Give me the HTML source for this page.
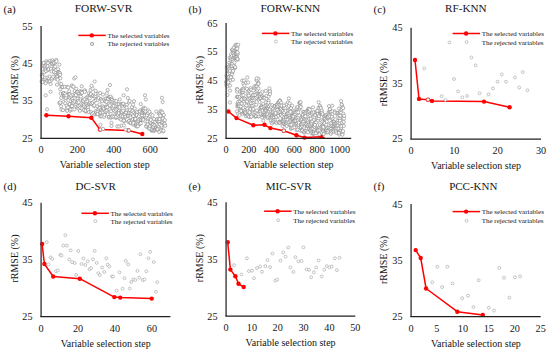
<!DOCTYPE html>
<html><head><meta charset="utf-8"><style>
html,body{margin:0;padding:0;background:#fff;}
svg{display:block;font-family:"Liberation Serif", serif;}
text{fill:#151515;}
</style></head><body>
<svg width="550" height="354" viewBox="0 0 550 354">
<polyline points="46.4,115.3 68.5,116.2 91.4,117.8 100.0,129.6 128.4,130.4 142.3,134.0" fill="none" stroke="#ff0000" stroke-width="1.5" stroke-linejoin="round"/>
<g fill="#ff0000"><circle cx="46.4" cy="115.3" r="2.2"/><circle cx="68.5" cy="116.2" r="2.2"/><circle cx="91.4" cy="117.8" r="2.2"/><circle cx="100.0" cy="129.6" r="2.2"/><circle cx="128.4" cy="130.4" r="2.2"/><circle cx="142.3" cy="134.0" r="2.2"/></g>
<g fill="#fff" stroke="#858585" stroke-width="0.6"><circle cx="41.6" cy="81.5" r="1.6"/><circle cx="41.9" cy="74.7" r="1.6"/><circle cx="41.9" cy="75.5" r="1.6"/><circle cx="42.7" cy="68.7" r="1.6"/><circle cx="42.4" cy="76.7" r="1.6"/><circle cx="42.6" cy="82.1" r="1.6"/><circle cx="43.4" cy="65.5" r="1.6"/><circle cx="43.2" cy="63.6" r="1.6"/><circle cx="43.6" cy="62.9" r="1.6"/><circle cx="44.1" cy="79.3" r="1.6"/><circle cx="44.4" cy="72.2" r="1.6"/><circle cx="44.8" cy="67.5" r="1.6"/><circle cx="45.3" cy="79.0" r="1.6"/><circle cx="45.4" cy="66.3" r="1.6"/><circle cx="45.3" cy="77.5" r="1.6"/><circle cx="45.7" cy="69.5" r="1.6"/><circle cx="46.4" cy="61.2" r="1.6"/><circle cx="46.1" cy="71.1" r="1.6"/><circle cx="47.0" cy="62.5" r="1.6"/><circle cx="47.0" cy="66.7" r="1.6"/><circle cx="46.9" cy="81.3" r="1.6"/><circle cx="47.7" cy="65.9" r="1.6"/><circle cx="47.4" cy="77.7" r="1.6"/><circle cx="47.8" cy="70.1" r="1.6"/><circle cx="48.1" cy="63.2" r="1.6"/><circle cx="48.7" cy="69.2" r="1.6"/><circle cx="48.6" cy="81.1" r="1.6"/><circle cx="49.4" cy="79.1" r="1.6"/><circle cx="49.2" cy="78.5" r="1.6"/><circle cx="49.8" cy="81.3" r="1.6"/><circle cx="49.7" cy="76.5" r="1.6"/><circle cx="50.1" cy="60.8" r="1.6"/><circle cx="50.2" cy="64.6" r="1.6"/><circle cx="50.9" cy="69.0" r="1.6"/><circle cx="51.5" cy="71.5" r="1.6"/><circle cx="51.7" cy="61.8" r="1.6"/><circle cx="52.0" cy="63.8" r="1.6"/><circle cx="51.7" cy="79.8" r="1.6"/><circle cx="52.0" cy="78.4" r="1.6"/><circle cx="52.6" cy="60.2" r="1.6"/><circle cx="52.4" cy="63.4" r="1.6"/><circle cx="53.2" cy="76.8" r="1.6"/><circle cx="53.4" cy="61.8" r="1.6"/><circle cx="53.8" cy="63.2" r="1.6"/><circle cx="53.9" cy="72.0" r="1.6"/><circle cx="54.0" cy="62.7" r="1.6"/><circle cx="54.1" cy="68.2" r="1.6"/><circle cx="54.4" cy="66.6" r="1.6"/><circle cx="55.1" cy="66.6" r="1.6"/><circle cx="55.6" cy="73.1" r="1.6"/><circle cx="55.7" cy="62.2" r="1.6"/><circle cx="55.5" cy="78.5" r="1.6"/><circle cx="56.3" cy="60.0" r="1.6"/><circle cx="56.5" cy="74.7" r="1.6"/><circle cx="56.5" cy="61.2" r="1.6"/><circle cx="57.0" cy="78.1" r="1.6"/><circle cx="57.4" cy="76.0" r="1.6"/><circle cx="57.8" cy="74.0" r="1.6"/><circle cx="58.1" cy="69.2" r="1.6"/><circle cx="58.3" cy="72.1" r="1.6"/><circle cx="58.4" cy="72.3" r="1.6"/><circle cx="58.7" cy="73.5" r="1.6"/><circle cx="59.3" cy="75.1" r="1.6"/><circle cx="59.1" cy="72.6" r="1.6"/><circle cx="59.4" cy="64.6" r="1.6"/><circle cx="59.9" cy="73.3" r="1.6"/><circle cx="60.0" cy="74.8" r="1.6"/><circle cx="60.3" cy="78.3" r="1.6"/><circle cx="59.5" cy="102.8" r="1.6"/><circle cx="59.5" cy="83.5" r="1.6"/><circle cx="59.8" cy="103.3" r="1.6"/><circle cx="60.3" cy="102.4" r="1.6"/><circle cx="60.2" cy="89.2" r="1.6"/><circle cx="61.1" cy="106.3" r="1.6"/><circle cx="60.7" cy="93.6" r="1.6"/><circle cx="61.2" cy="84.0" r="1.6"/><circle cx="61.2" cy="97.9" r="1.6"/><circle cx="61.4" cy="109.6" r="1.6"/><circle cx="61.7" cy="86.9" r="1.6"/><circle cx="62.1" cy="87.3" r="1.6"/><circle cx="62.7" cy="87.0" r="1.6"/><circle cx="63.0" cy="94.2" r="1.6"/><circle cx="63.1" cy="93.2" r="1.6"/><circle cx="62.9" cy="110.1" r="1.6"/><circle cx="63.9" cy="93.1" r="1.6"/><circle cx="63.7" cy="102.0" r="1.6"/><circle cx="63.7" cy="93.1" r="1.6"/><circle cx="64.3" cy="97.4" r="1.6"/><circle cx="64.2" cy="95.4" r="1.6"/><circle cx="64.8" cy="95.8" r="1.6"/><circle cx="64.9" cy="86.8" r="1.6"/><circle cx="65.3" cy="103.3" r="1.6"/><circle cx="65.2" cy="93.8" r="1.6"/><circle cx="65.9" cy="97.5" r="1.6"/><circle cx="65.8" cy="97.9" r="1.6"/><circle cx="66.7" cy="110.1" r="1.6"/><circle cx="66.3" cy="95.4" r="1.6"/><circle cx="66.6" cy="109.0" r="1.6"/><circle cx="66.7" cy="105.7" r="1.6"/><circle cx="67.2" cy="86.9" r="1.6"/><circle cx="67.2" cy="110.8" r="1.6"/><circle cx="68.2" cy="87.4" r="1.6"/><circle cx="67.9" cy="107.3" r="1.6"/><circle cx="68.4" cy="100.1" r="1.6"/><circle cx="68.5" cy="93.6" r="1.6"/><circle cx="69.2" cy="91.2" r="1.6"/><circle cx="68.9" cy="94.0" r="1.6"/><circle cx="69.7" cy="104.1" r="1.6"/><circle cx="69.7" cy="94.3" r="1.6"/><circle cx="69.6" cy="104.1" r="1.6"/><circle cx="69.8" cy="97.6" r="1.6"/><circle cx="70.1" cy="110.8" r="1.6"/><circle cx="70.6" cy="109.4" r="1.6"/><circle cx="71.2" cy="96.9" r="1.6"/><circle cx="71.2" cy="106.1" r="1.6"/><circle cx="71.4" cy="95.4" r="1.6"/><circle cx="71.8" cy="85.4" r="1.6"/><circle cx="72.0" cy="106.1" r="1.6"/><circle cx="72.4" cy="99.0" r="1.6"/><circle cx="72.6" cy="86.6" r="1.6"/><circle cx="72.5" cy="109.5" r="1.6"/><circle cx="73.0" cy="101.0" r="1.6"/><circle cx="72.8" cy="103.2" r="1.6"/><circle cx="73.3" cy="94.7" r="1.6"/><circle cx="73.5" cy="86.7" r="1.6"/><circle cx="73.5" cy="102.8" r="1.6"/><circle cx="74.3" cy="109.4" r="1.6"/><circle cx="74.2" cy="78.5" r="1.6"/><circle cx="74.6" cy="101.5" r="1.6"/><circle cx="74.7" cy="90.9" r="1.6"/><circle cx="75.5" cy="77.3" r="1.6"/><circle cx="75.2" cy="93.8" r="1.6"/><circle cx="75.4" cy="95.8" r="1.6"/><circle cx="76.0" cy="95.2" r="1.6"/><circle cx="76.2" cy="88.7" r="1.6"/><circle cx="76.3" cy="106.4" r="1.6"/><circle cx="76.4" cy="104.4" r="1.6"/><circle cx="76.8" cy="101.7" r="1.6"/><circle cx="77.5" cy="102.6" r="1.6"/><circle cx="77.3" cy="92.1" r="1.6"/><circle cx="77.6" cy="92.1" r="1.6"/><circle cx="77.6" cy="98.8" r="1.6"/><circle cx="77.9" cy="106.1" r="1.6"/><circle cx="78.2" cy="100.8" r="1.6"/><circle cx="78.5" cy="108.8" r="1.6"/><circle cx="78.7" cy="102.2" r="1.6"/><circle cx="79.4" cy="106.2" r="1.6"/><circle cx="79.3" cy="93.0" r="1.6"/><circle cx="79.6" cy="96.4" r="1.6"/><circle cx="79.8" cy="91.3" r="1.6"/><circle cx="79.9" cy="110.8" r="1.6"/><circle cx="80.4" cy="107.7" r="1.6"/><circle cx="80.9" cy="96.7" r="1.6"/><circle cx="81.1" cy="91.4" r="1.6"/><circle cx="81.4" cy="93.3" r="1.6"/><circle cx="81.7" cy="86.3" r="1.6"/><circle cx="81.3" cy="92.1" r="1.6"/><circle cx="82.1" cy="92.8" r="1.6"/><circle cx="81.9" cy="108.4" r="1.6"/><circle cx="82.5" cy="104.4" r="1.6"/><circle cx="82.7" cy="100.8" r="1.6"/><circle cx="83.0" cy="100.3" r="1.6"/><circle cx="83.3" cy="103.3" r="1.6"/><circle cx="83.3" cy="100.7" r="1.6"/><circle cx="83.8" cy="110.1" r="1.6"/><circle cx="83.9" cy="104.9" r="1.6"/><circle cx="84.5" cy="99.1" r="1.6"/><circle cx="84.4" cy="106.4" r="1.6"/><circle cx="85.0" cy="90.7" r="1.6"/><circle cx="84.6" cy="90.4" r="1.6"/><circle cx="84.8" cy="91.9" r="1.6"/><circle cx="85.6" cy="111.5" r="1.6"/><circle cx="86.1" cy="111.3" r="1.6"/><circle cx="85.6" cy="110.6" r="1.6"/><circle cx="86.2" cy="107.1" r="1.6"/><circle cx="86.4" cy="97.4" r="1.6"/><circle cx="86.5" cy="104.0" r="1.6"/><circle cx="87.3" cy="107.7" r="1.6"/><circle cx="87.5" cy="97.4" r="1.6"/><circle cx="87.8" cy="105.6" r="1.6"/><circle cx="87.3" cy="101.5" r="1.6"/><circle cx="88.1" cy="107.5" r="1.6"/><circle cx="88.1" cy="109.9" r="1.6"/><circle cx="88.8" cy="93.4" r="1.6"/><circle cx="88.8" cy="97.7" r="1.6"/><circle cx="88.7" cy="103.9" r="1.6"/><circle cx="88.9" cy="112.1" r="1.6"/><circle cx="89.7" cy="98.3" r="1.6"/><circle cx="89.4" cy="104.1" r="1.6"/><circle cx="89.7" cy="103.0" r="1.6"/><circle cx="90.3" cy="94.6" r="1.6"/><circle cx="90.4" cy="95.1" r="1.6"/><circle cx="90.7" cy="89.9" r="1.6"/><circle cx="90.9" cy="94.1" r="1.6"/><circle cx="91.1" cy="112.1" r="1.6"/><circle cx="91.3" cy="103.8" r="1.6"/><circle cx="91.6" cy="103.3" r="1.6"/><circle cx="91.6" cy="85.8" r="1.6"/><circle cx="92.0" cy="113.8" r="1.6"/><circle cx="92.6" cy="95.9" r="1.6"/><circle cx="92.6" cy="88.7" r="1.6"/><circle cx="92.7" cy="102.6" r="1.6"/><circle cx="93.3" cy="113.3" r="1.6"/><circle cx="93.5" cy="95.7" r="1.6"/><circle cx="93.7" cy="106.1" r="1.6"/><circle cx="94.2" cy="101.1" r="1.6"/><circle cx="94.4" cy="105.3" r="1.6"/><circle cx="94.6" cy="96.8" r="1.6"/><circle cx="94.6" cy="81.5" r="1.6"/><circle cx="95.2" cy="114.3" r="1.6"/><circle cx="95.6" cy="111.1" r="1.6"/><circle cx="95.4" cy="96.0" r="1.6"/><circle cx="95.7" cy="90.9" r="1.6"/><circle cx="95.7" cy="93.9" r="1.6"/><circle cx="96.0" cy="100.3" r="1.6"/><circle cx="96.5" cy="114.0" r="1.6"/><circle cx="96.5" cy="112.3" r="1.6"/><circle cx="97.3" cy="106.4" r="1.6"/><circle cx="97.2" cy="113.9" r="1.6"/><circle cx="97.7" cy="111.8" r="1.6"/><circle cx="97.6" cy="114.0" r="1.6"/><circle cx="97.7" cy="99.8" r="1.6"/><circle cx="98.5" cy="109.3" r="1.6"/><circle cx="98.5" cy="93.7" r="1.6"/><circle cx="98.7" cy="98.0" r="1.6"/><circle cx="99.4" cy="108.0" r="1.6"/><circle cx="99.6" cy="107.9" r="1.6"/><circle cx="99.6" cy="104.4" r="1.6"/><circle cx="100.1" cy="93.0" r="1.6"/><circle cx="100.1" cy="116.3" r="1.6"/><circle cx="100.1" cy="112.8" r="1.6"/><circle cx="100.7" cy="112.5" r="1.6"/><circle cx="100.9" cy="110.1" r="1.6"/><circle cx="100.9" cy="99.0" r="1.6"/><circle cx="101.0" cy="116.2" r="1.6"/><circle cx="101.3" cy="100.2" r="1.6"/><circle cx="102.2" cy="101.2" r="1.6"/><circle cx="102.3" cy="116.4" r="1.6"/><circle cx="102.1" cy="110.5" r="1.6"/><circle cx="102.4" cy="111.3" r="1.6"/><circle cx="103.0" cy="112.4" r="1.6"/><circle cx="102.9" cy="106.4" r="1.6"/><circle cx="103.0" cy="94.6" r="1.6"/><circle cx="103.4" cy="107.6" r="1.6"/><circle cx="103.7" cy="109.0" r="1.6"/><circle cx="104.1" cy="116.9" r="1.6"/><circle cx="104.6" cy="114.9" r="1.6"/><circle cx="104.4" cy="99.3" r="1.6"/><circle cx="104.7" cy="111.0" r="1.6"/><circle cx="105.2" cy="100.8" r="1.6"/><circle cx="105.7" cy="101.7" r="1.6"/><circle cx="105.5" cy="111.5" r="1.6"/><circle cx="106.2" cy="106.5" r="1.6"/><circle cx="106.4" cy="98.2" r="1.6"/><circle cx="106.7" cy="110.7" r="1.6"/><circle cx="106.6" cy="101.7" r="1.6"/><circle cx="106.5" cy="107.1" r="1.6"/><circle cx="107.4" cy="107.3" r="1.6"/><circle cx="107.5" cy="112.9" r="1.6"/><circle cx="107.8" cy="114.3" r="1.6"/><circle cx="108.0" cy="98.9" r="1.6"/><circle cx="108.1" cy="98.4" r="1.6"/><circle cx="108.1" cy="98.9" r="1.6"/><circle cx="108.7" cy="117.5" r="1.6"/><circle cx="109.0" cy="104.2" r="1.6"/><circle cx="109.0" cy="116.9" r="1.6"/><circle cx="109.7" cy="109.3" r="1.6"/><circle cx="109.3" cy="97.0" r="1.6"/><circle cx="109.7" cy="97.1" r="1.6"/><circle cx="109.9" cy="105.4" r="1.6"/><circle cx="110.7" cy="96.6" r="1.6"/><circle cx="111.0" cy="111.3" r="1.6"/><circle cx="110.9" cy="117.6" r="1.6"/><circle cx="111.1" cy="98.8" r="1.6"/><circle cx="111.2" cy="101.3" r="1.6"/><circle cx="111.9" cy="98.6" r="1.6"/><circle cx="111.6" cy="117.1" r="1.6"/><circle cx="112.4" cy="106.9" r="1.6"/><circle cx="112.0" cy="99.9" r="1.6"/><circle cx="112.4" cy="115.6" r="1.6"/><circle cx="112.6" cy="116.6" r="1.6"/><circle cx="112.7" cy="101.6" r="1.6"/><circle cx="113.2" cy="108.2" r="1.6"/><circle cx="114.0" cy="110.4" r="1.6"/><circle cx="113.6" cy="105.9" r="1.6"/><circle cx="114.4" cy="100.9" r="1.6"/><circle cx="114.3" cy="103.4" r="1.6"/><circle cx="114.3" cy="116.7" r="1.6"/><circle cx="114.7" cy="102.9" r="1.6"/><circle cx="115.3" cy="111.7" r="1.6"/><circle cx="115.6" cy="108.9" r="1.6"/><circle cx="116.0" cy="118.0" r="1.6"/><circle cx="116.2" cy="103.0" r="1.6"/><circle cx="116.0" cy="116.9" r="1.6"/><circle cx="116.2" cy="109.8" r="1.6"/><circle cx="116.3" cy="101.0" r="1.6"/><circle cx="116.7" cy="113.4" r="1.6"/><circle cx="117.5" cy="108.5" r="1.6"/><circle cx="117.6" cy="113.9" r="1.6"/><circle cx="117.3" cy="104.2" r="1.6"/><circle cx="117.9" cy="114.9" r="1.6"/><circle cx="118.4" cy="107.1" r="1.6"/><circle cx="118.6" cy="117.3" r="1.6"/><circle cx="118.5" cy="107.4" r="1.6"/><circle cx="119.1" cy="104.3" r="1.6"/><circle cx="118.8" cy="113.0" r="1.6"/><circle cx="119.8" cy="99.5" r="1.6"/><circle cx="119.6" cy="108.3" r="1.6"/><circle cx="119.6" cy="106.9" r="1.6"/><circle cx="119.8" cy="118.6" r="1.6"/><circle cx="120.6" cy="116.9" r="1.6"/><circle cx="120.9" cy="104.3" r="1.6"/><circle cx="121.3" cy="115.6" r="1.6"/><circle cx="120.9" cy="112.1" r="1.6"/><circle cx="121.1" cy="119.7" r="1.6"/><circle cx="121.8" cy="104.1" r="1.6"/><circle cx="122.1" cy="111.5" r="1.6"/><circle cx="121.9" cy="111.8" r="1.6"/><circle cx="122.4" cy="105.6" r="1.6"/><circle cx="122.7" cy="104.0" r="1.6"/><circle cx="122.9" cy="116.2" r="1.6"/><circle cx="123.4" cy="120.2" r="1.6"/><circle cx="123.2" cy="110.7" r="1.6"/><circle cx="123.4" cy="103.7" r="1.6"/><circle cx="124.3" cy="121.0" r="1.6"/><circle cx="123.9" cy="120.5" r="1.6"/><circle cx="124.7" cy="114.9" r="1.6"/><circle cx="124.7" cy="113.6" r="1.6"/><circle cx="125.0" cy="114.5" r="1.6"/><circle cx="125.3" cy="117.2" r="1.6"/><circle cx="125.3" cy="106.4" r="1.6"/><circle cx="125.7" cy="116.3" r="1.6"/><circle cx="125.6" cy="105.0" r="1.6"/><circle cx="126.3" cy="112.7" r="1.6"/><circle cx="126.8" cy="104.7" r="1.6"/><circle cx="126.8" cy="109.7" r="1.6"/><circle cx="126.7" cy="107.6" r="1.6"/><circle cx="127.6" cy="115.2" r="1.6"/><circle cx="127.8" cy="98.0" r="1.6"/><circle cx="128.1" cy="121.8" r="1.6"/><circle cx="128.2" cy="116.1" r="1.6"/><circle cx="128.3" cy="114.0" r="1.6"/><circle cx="128.5" cy="115.8" r="1.6"/><circle cx="128.3" cy="116.0" r="1.6"/><circle cx="129.3" cy="113.0" r="1.6"/><circle cx="129.0" cy="121.0" r="1.6"/><circle cx="129.1" cy="102.5" r="1.6"/><circle cx="129.7" cy="101.0" r="1.6"/><circle cx="130.0" cy="110.2" r="1.6"/><circle cx="130.0" cy="122.9" r="1.6"/><circle cx="130.2" cy="116.2" r="1.6"/><circle cx="130.6" cy="117.6" r="1.6"/><circle cx="130.8" cy="122.8" r="1.6"/><circle cx="131.0" cy="113.3" r="1.6"/><circle cx="131.7" cy="120.3" r="1.6"/><circle cx="131.9" cy="107.1" r="1.6"/><circle cx="132.1" cy="120.5" r="1.6"/><circle cx="132.2" cy="113.4" r="1.6"/><circle cx="132.8" cy="119.1" r="1.6"/><circle cx="132.4" cy="111.1" r="1.6"/><circle cx="133.0" cy="124.5" r="1.6"/><circle cx="133.1" cy="104.5" r="1.6"/><circle cx="133.5" cy="122.2" r="1.6"/><circle cx="133.4" cy="123.0" r="1.6"/><circle cx="134.0" cy="112.5" r="1.6"/><circle cx="134.0" cy="101.2" r="1.6"/><circle cx="134.8" cy="118.6" r="1.6"/><circle cx="134.8" cy="108.5" r="1.6"/><circle cx="135.2" cy="118.5" r="1.6"/><circle cx="135.4" cy="119.0" r="1.6"/><circle cx="135.3" cy="114.2" r="1.6"/><circle cx="135.8" cy="126.0" r="1.6"/><circle cx="135.7" cy="113.2" r="1.6"/><circle cx="136.6" cy="124.9" r="1.6"/><circle cx="136.8" cy="122.2" r="1.6"/><circle cx="136.9" cy="113.2" r="1.6"/><circle cx="136.8" cy="115.1" r="1.6"/><circle cx="137.1" cy="126.5" r="1.6"/><circle cx="137.3" cy="111.9" r="1.6"/><circle cx="138.0" cy="122.6" r="1.6"/><circle cx="138.1" cy="124.2" r="1.6"/><circle cx="138.0" cy="126.2" r="1.6"/><circle cx="138.4" cy="120.9" r="1.6"/><circle cx="138.9" cy="116.1" r="1.6"/><circle cx="139.4" cy="111.5" r="1.6"/><circle cx="139.5" cy="119.8" r="1.6"/><circle cx="139.9" cy="113.8" r="1.6"/><circle cx="140.1" cy="110.3" r="1.6"/><circle cx="139.8" cy="124.0" r="1.6"/><circle cx="140.1" cy="111.8" r="1.6"/><circle cx="140.7" cy="104.1" r="1.6"/><circle cx="141.0" cy="120.1" r="1.6"/><circle cx="140.8" cy="123.3" r="1.6"/><circle cx="141.2" cy="119.5" r="1.6"/><circle cx="141.8" cy="112.8" r="1.6"/><circle cx="142.1" cy="115.4" r="1.6"/><circle cx="142.3" cy="118.6" r="1.6"/><circle cx="142.2" cy="112.6" r="1.6"/><circle cx="142.9" cy="119.2" r="1.6"/><circle cx="142.9" cy="108.8" r="1.6"/><circle cx="143.2" cy="112.6" r="1.6"/><circle cx="143.4" cy="119.9" r="1.6"/><circle cx="143.8" cy="107.6" r="1.6"/><circle cx="144.2" cy="112.1" r="1.6"/><circle cx="143.8" cy="109.1" r="1.6"/><circle cx="144.7" cy="111.6" r="1.6"/><circle cx="144.5" cy="110.2" r="1.6"/><circle cx="144.9" cy="115.5" r="1.6"/><circle cx="145.5" cy="108.7" r="1.6"/><circle cx="145.6" cy="113.0" r="1.6"/><circle cx="145.6" cy="111.5" r="1.6"/><circle cx="145.5" cy="121.3" r="1.6"/><circle cx="146.2" cy="126.0" r="1.6"/><circle cx="146.3" cy="126.6" r="1.6"/><circle cx="146.3" cy="117.0" r="1.6"/><circle cx="147.0" cy="114.2" r="1.6"/><circle cx="146.9" cy="115.3" r="1.6"/><circle cx="147.7" cy="124.3" r="1.6"/><circle cx="147.6" cy="121.4" r="1.6"/><circle cx="148.1" cy="113.2" r="1.6"/><circle cx="148.3" cy="118.6" r="1.6"/><circle cx="148.3" cy="127.5" r="1.6"/><circle cx="148.4" cy="110.4" r="1.6"/><circle cx="148.9" cy="127.8" r="1.6"/><circle cx="149.3" cy="128.5" r="1.6"/><circle cx="149.7" cy="128.3" r="1.6"/><circle cx="149.9" cy="126.2" r="1.6"/><circle cx="149.5" cy="111.9" r="1.6"/><circle cx="150.1" cy="122.0" r="1.6"/><circle cx="150.3" cy="118.8" r="1.6"/><circle cx="150.8" cy="119.9" r="1.6"/><circle cx="151.0" cy="114.4" r="1.6"/><circle cx="151.1" cy="123.2" r="1.6"/><circle cx="151.6" cy="130.8" r="1.6"/><circle cx="151.7" cy="125.0" r="1.6"/><circle cx="152.2" cy="130.0" r="1.6"/><circle cx="152.5" cy="129.7" r="1.6"/><circle cx="152.3" cy="129.4" r="1.6"/><circle cx="152.9" cy="124.0" r="1.6"/><circle cx="152.5" cy="115.3" r="1.6"/><circle cx="153.2" cy="124.8" r="1.6"/><circle cx="153.1" cy="127.5" r="1.6"/><circle cx="153.7" cy="131.1" r="1.6"/><circle cx="153.5" cy="126.7" r="1.6"/><circle cx="154.2" cy="129.9" r="1.6"/><circle cx="154.1" cy="118.9" r="1.6"/><circle cx="154.8" cy="125.4" r="1.6"/><circle cx="155.2" cy="121.9" r="1.6"/><circle cx="155.2" cy="130.2" r="1.6"/><circle cx="155.3" cy="129.0" r="1.6"/><circle cx="156.0" cy="126.9" r="1.6"/><circle cx="156.0" cy="128.0" r="1.6"/><circle cx="156.3" cy="111.6" r="1.6"/><circle cx="156.6" cy="129.0" r="1.6"/><circle cx="156.9" cy="119.8" r="1.6"/><circle cx="157.1" cy="120.7" r="1.6"/><circle cx="157.0" cy="129.1" r="1.6"/><circle cx="157.3" cy="119.2" r="1.6"/><circle cx="157.7" cy="129.7" r="1.6"/><circle cx="157.6" cy="129.2" r="1.6"/><circle cx="158.4" cy="121.9" r="1.6"/><circle cx="158.8" cy="119.0" r="1.6"/><circle cx="158.9" cy="113.6" r="1.6"/><circle cx="159.3" cy="132.0" r="1.6"/><circle cx="159.2" cy="121.8" r="1.6"/><circle cx="159.8" cy="114.4" r="1.6"/><circle cx="159.3" cy="124.3" r="1.6"/><circle cx="159.7" cy="119.2" r="1.6"/><circle cx="159.9" cy="124.4" r="1.6"/><circle cx="160.2" cy="115.7" r="1.6"/><circle cx="160.6" cy="128.9" r="1.6"/><circle cx="160.6" cy="111.0" r="1.6"/><circle cx="161.6" cy="127.1" r="1.6"/><circle cx="161.5" cy="125.6" r="1.6"/><circle cx="161.4" cy="130.5" r="1.6"/><circle cx="161.8" cy="111.5" r="1.6"/><circle cx="162.4" cy="112.6" r="1.6"/><circle cx="162.8" cy="122.9" r="1.6"/><circle cx="162.7" cy="119.4" r="1.6"/><circle cx="163.0" cy="118.4" r="1.6"/><circle cx="163.0" cy="118.6" r="1.6"/><circle cx="163.2" cy="131.4" r="1.6"/><circle cx="163.5" cy="130.5" r="1.6"/><circle cx="163.8" cy="115.0" r="1.6"/><circle cx="163.9" cy="124.1" r="1.6"/><circle cx="164.8" cy="120.2" r="1.6"/><circle cx="164.7" cy="123.9" r="1.6"/><circle cx="165.2" cy="125.8" r="1.6"/><circle cx="110.0" cy="85.0" r="1.6"/><circle cx="107.6" cy="90.0" r="1.6"/><circle cx="106.8" cy="93.5" r="1.6"/><circle cx="127.0" cy="89.3" r="1.6"/><circle cx="123.7" cy="95.3" r="1.6"/><circle cx="145.0" cy="95.3" r="1.6"/><circle cx="145.8" cy="99.5" r="1.6"/><circle cx="161.9" cy="97.8" r="1.6"/><circle cx="162.7" cy="102.0" r="1.6"/><circle cx="45.7" cy="83.2" r="1.6"/><circle cx="50.6" cy="84.0" r="1.6"/><circle cx="57.7" cy="79.7" r="1.6"/><circle cx="57.0" cy="84.7" r="1.6"/><circle cx="50.6" cy="91.7" r="1.6"/><circle cx="45.7" cy="95.3" r="1.6"/><circle cx="47.0" cy="109.4" r="1.6"/><circle cx="92.0" cy="44.0" r="1.6"/><circle cx="100.5" cy="129.5" r="1.6"/><circle cx="103.1" cy="128.9" r="1.6"/><circle cx="128.9" cy="130.4" r="1.6"/><circle cx="125.6" cy="129.6" r="1.6"/><circle cx="111.5" cy="126.0" r="1.6"/><circle cx="117.3" cy="126.4" r="1.6"/><circle cx="119.1" cy="126.4" r="1.6"/><circle cx="121.6" cy="125.6" r="1.6"/><circle cx="123.8" cy="125.3" r="1.6"/><circle cx="100.5" cy="124.9" r="1.6"/><circle cx="111.5" cy="122.7" r="1.6"/></g>
<path d="M41.1,26 V138.3" fill="none" stroke="#4a4a4a" stroke-width="1.5"/>
<path d="M40.3,138.3 H167.7" fill="none" stroke="#202020" stroke-width="1.25"/>
<text x="32.5" y="141.8" text-anchor="end" font-size="10.2">25</text>
<text x="32.5" y="104.4" text-anchor="end" font-size="10.2">35</text>
<text x="32.5" y="66.9" text-anchor="end" font-size="10.2">45</text>
<text x="32.5" y="29.5" text-anchor="end" font-size="10.2">55</text>
<text x="41.0" y="153.3" text-anchor="middle" font-size="10.2">0</text>
<text x="77.4" y="153.3" text-anchor="middle" font-size="10.2">200</text>
<text x="113.8" y="153.3" text-anchor="middle" font-size="10.2">400</text>
<text x="150.2" y="153.3" text-anchor="middle" font-size="10.2">600</text>
<text x="104.7" y="168.3" text-anchor="middle" font-size="10">Variable selection step</text>
<text transform="translate(17.6,79.9) rotate(-90)" text-anchor="middle" font-size="10">rRMSE (%)</text>
<text x="3.5" y="12.6" font-size="11">(a)</text>
<text x="103.6" y="12.2" text-anchor="middle" font-size="11.4">FORW-SVR</text>
<line x1="78.3" y1="35.4" x2="105.8" y2="35.4" stroke="#ff0000" stroke-width="1.5"/>
<circle cx="91.8" cy="35.4" r="2.2" fill="#ff0000"/>
<circle cx="92.3" cy="43.7" r="1.45" fill="none" stroke="#a0a0a0" stroke-width="0.6"/>
<text x="107.4" y="37.9" font-size="7">The selected variables</text>
<text x="107.4" y="46.2" font-size="7">The rejected variables</text>
<polyline points="228.4,111.5 236.5,118.1 253.3,125.2 264.5,124.8 270.4,128.1 283.8,130.7 296.5,135.2 304.5,137.6 321.2,136.8 324.8,138.1" fill="none" stroke="#ff0000" stroke-width="1.5" stroke-linejoin="round"/>
<g fill="#ff0000"><circle cx="228.4" cy="111.5" r="2.2"/><circle cx="236.5" cy="118.1" r="2.2"/><circle cx="253.3" cy="125.2" r="2.2"/><circle cx="264.5" cy="124.8" r="2.2"/><circle cx="270.4" cy="128.1" r="2.2"/><circle cx="283.8" cy="130.7" r="2.2"/><circle cx="296.5" cy="135.2" r="2.2"/><circle cx="304.5" cy="137.6" r="2.2"/><circle cx="321.2" cy="136.8" r="2.2"/></g>
<g fill="#fff" stroke="#858585" stroke-width="0.6"><circle cx="226.0" cy="82.0" r="1.6"/><circle cx="226.4" cy="85.1" r="1.6"/><circle cx="226.8" cy="77.6" r="1.6"/><circle cx="226.5" cy="75.5" r="1.6"/><circle cx="226.9" cy="83.9" r="1.6"/><circle cx="226.8" cy="67.2" r="1.6"/><circle cx="227.5" cy="84.3" r="1.6"/><circle cx="227.4" cy="71.8" r="1.6"/><circle cx="227.4" cy="86.4" r="1.6"/><circle cx="227.4" cy="83.1" r="1.6"/><circle cx="227.4" cy="74.7" r="1.6"/><circle cx="227.9" cy="74.0" r="1.6"/><circle cx="227.7" cy="83.6" r="1.6"/><circle cx="227.9" cy="67.2" r="1.6"/><circle cx="228.6" cy="78.6" r="1.6"/><circle cx="228.6" cy="78.0" r="1.6"/><circle cx="228.2" cy="81.4" r="1.6"/><circle cx="228.4" cy="82.4" r="1.6"/><circle cx="228.7" cy="70.5" r="1.6"/><circle cx="228.9" cy="68.5" r="1.6"/><circle cx="228.7" cy="77.4" r="1.6"/><circle cx="229.6" cy="69.3" r="1.6"/><circle cx="229.4" cy="62.8" r="1.6"/><circle cx="229.6" cy="72.9" r="1.6"/><circle cx="229.4" cy="66.1" r="1.6"/><circle cx="230.1" cy="71.0" r="1.6"/><circle cx="229.8" cy="57.7" r="1.6"/><circle cx="230.3" cy="64.6" r="1.6"/><circle cx="230.3" cy="78.6" r="1.6"/><circle cx="230.7" cy="80.3" r="1.6"/><circle cx="230.8" cy="77.1" r="1.6"/><circle cx="230.6" cy="60.4" r="1.6"/><circle cx="231.1" cy="54.4" r="1.6"/><circle cx="231.1" cy="65.5" r="1.6"/><circle cx="231.3" cy="59.0" r="1.6"/><circle cx="231.0" cy="57.3" r="1.6"/><circle cx="231.0" cy="77.3" r="1.6"/><circle cx="231.8" cy="63.8" r="1.6"/><circle cx="231.4" cy="66.1" r="1.6"/><circle cx="231.9" cy="56.2" r="1.6"/><circle cx="232.1" cy="74.2" r="1.6"/><circle cx="232.1" cy="66.0" r="1.6"/><circle cx="232.4" cy="63.8" r="1.6"/><circle cx="232.1" cy="50.1" r="1.6"/><circle cx="232.6" cy="49.5" r="1.6"/><circle cx="232.6" cy="71.8" r="1.6"/><circle cx="232.8" cy="59.4" r="1.6"/><circle cx="233.2" cy="51.1" r="1.6"/><circle cx="232.7" cy="49.4" r="1.6"/><circle cx="233.1" cy="70.9" r="1.6"/><circle cx="233.4" cy="61.3" r="1.6"/><circle cx="233.3" cy="53.3" r="1.6"/><circle cx="233.3" cy="57.4" r="1.6"/><circle cx="233.9" cy="47.5" r="1.6"/><circle cx="234.0" cy="65.6" r="1.6"/><circle cx="234.2" cy="57.2" r="1.6"/><circle cx="233.8" cy="51.0" r="1.6"/><circle cx="234.4" cy="62.5" r="1.6"/><circle cx="234.2" cy="55.3" r="1.6"/><circle cx="234.4" cy="52.6" r="1.6"/><circle cx="234.7" cy="67.9" r="1.6"/><circle cx="234.5" cy="57.6" r="1.6"/><circle cx="235.1" cy="51.3" r="1.6"/><circle cx="235.2" cy="57.0" r="1.6"/><circle cx="234.9" cy="67.9" r="1.6"/><circle cx="235.2" cy="67.1" r="1.6"/><circle cx="235.2" cy="45.7" r="1.6"/><circle cx="235.9" cy="53.3" r="1.6"/><circle cx="235.9" cy="57.6" r="1.6"/><circle cx="235.9" cy="52.1" r="1.6"/><circle cx="236.0" cy="44.7" r="1.6"/><circle cx="236.1" cy="58.2" r="1.6"/><circle cx="236.6" cy="52.3" r="1.6"/><circle cx="236.3" cy="53.5" r="1.6"/><circle cx="236.7" cy="45.0" r="1.6"/><circle cx="236.7" cy="57.0" r="1.6"/><circle cx="237.2" cy="54.3" r="1.6"/><circle cx="237.2" cy="58.4" r="1.6"/><circle cx="237.3" cy="47.4" r="1.6"/><circle cx="237.6" cy="53.5" r="1.6"/><circle cx="237.7" cy="59.8" r="1.6"/><circle cx="237.2" cy="48.7" r="1.6"/><circle cx="237.6" cy="52.4" r="1.6"/><circle cx="237.5" cy="59.0" r="1.6"/><circle cx="238.2" cy="44.8" r="1.6"/><circle cx="236.9" cy="88.9" r="1.6"/><circle cx="237.1" cy="91.7" r="1.6"/><circle cx="236.9" cy="111.5" r="1.6"/><circle cx="236.8" cy="96.9" r="1.6"/><circle cx="237.2" cy="106.5" r="1.6"/><circle cx="237.6" cy="89.7" r="1.6"/><circle cx="237.8" cy="96.9" r="1.6"/><circle cx="237.4" cy="103.9" r="1.6"/><circle cx="238.1" cy="113.7" r="1.6"/><circle cx="238.0" cy="104.8" r="1.6"/><circle cx="237.9" cy="97.0" r="1.6"/><circle cx="238.5" cy="105.7" r="1.6"/><circle cx="238.1" cy="106.2" r="1.6"/><circle cx="238.3" cy="102.6" r="1.6"/><circle cx="238.4" cy="101.9" r="1.6"/><circle cx="238.9" cy="105.9" r="1.6"/><circle cx="239.4" cy="97.8" r="1.6"/><circle cx="239.3" cy="104.0" r="1.6"/><circle cx="239.4" cy="106.2" r="1.6"/><circle cx="239.6" cy="115.1" r="1.6"/><circle cx="239.6" cy="98.5" r="1.6"/><circle cx="240.2" cy="101.3" r="1.6"/><circle cx="240.0" cy="112.3" r="1.6"/><circle cx="239.9" cy="96.7" r="1.6"/><circle cx="240.2" cy="91.7" r="1.6"/><circle cx="240.1" cy="109.5" r="1.6"/><circle cx="240.8" cy="106.5" r="1.6"/><circle cx="240.5" cy="110.5" r="1.6"/><circle cx="241.3" cy="111.1" r="1.6"/><circle cx="241.2" cy="103.1" r="1.6"/><circle cx="241.7" cy="99.4" r="1.6"/><circle cx="241.7" cy="95.7" r="1.6"/><circle cx="241.9" cy="103.7" r="1.6"/><circle cx="242.2" cy="80.5" r="1.6"/><circle cx="242.1" cy="89.3" r="1.6"/><circle cx="242.3" cy="92.4" r="1.6"/><circle cx="241.9" cy="95.4" r="1.6"/><circle cx="242.1" cy="92.0" r="1.6"/><circle cx="242.9" cy="92.1" r="1.6"/><circle cx="242.4" cy="90.1" r="1.6"/><circle cx="242.8" cy="113.8" r="1.6"/><circle cx="243.4" cy="95.2" r="1.6"/><circle cx="243.5" cy="88.9" r="1.6"/><circle cx="243.4" cy="108.0" r="1.6"/><circle cx="243.7" cy="90.3" r="1.6"/><circle cx="243.5" cy="83.8" r="1.6"/><circle cx="244.0" cy="112.8" r="1.6"/><circle cx="244.2" cy="99.0" r="1.6"/><circle cx="244.3" cy="98.5" r="1.6"/><circle cx="244.0" cy="80.6" r="1.6"/><circle cx="244.6" cy="111.3" r="1.6"/><circle cx="244.5" cy="85.5" r="1.6"/><circle cx="244.7" cy="110.3" r="1.6"/><circle cx="244.6" cy="103.9" r="1.6"/><circle cx="244.9" cy="113.0" r="1.6"/><circle cx="245.4" cy="111.6" r="1.6"/><circle cx="245.5" cy="90.8" r="1.6"/><circle cx="245.4" cy="99.3" r="1.6"/><circle cx="246.0" cy="116.3" r="1.6"/><circle cx="245.7" cy="112.7" r="1.6"/><circle cx="246.4" cy="105.3" r="1.6"/><circle cx="246.1" cy="82.7" r="1.6"/><circle cx="246.4" cy="100.5" r="1.6"/><circle cx="247.0" cy="102.4" r="1.6"/><circle cx="247.1" cy="101.4" r="1.6"/><circle cx="247.2" cy="77.5" r="1.6"/><circle cx="247.3" cy="111.7" r="1.6"/><circle cx="246.9" cy="88.9" r="1.6"/><circle cx="247.4" cy="114.7" r="1.6"/><circle cx="247.5" cy="109.0" r="1.6"/><circle cx="247.6" cy="115.8" r="1.6"/><circle cx="248.1" cy="111.4" r="1.6"/><circle cx="248.2" cy="94.1" r="1.6"/><circle cx="248.0" cy="115.4" r="1.6"/><circle cx="248.2" cy="82.4" r="1.6"/><circle cx="248.2" cy="95.9" r="1.6"/><circle cx="248.5" cy="98.9" r="1.6"/><circle cx="248.8" cy="95.6" r="1.6"/><circle cx="249.1" cy="116.9" r="1.6"/><circle cx="249.1" cy="116.7" r="1.6"/><circle cx="249.4" cy="90.4" r="1.6"/><circle cx="249.3" cy="90.7" r="1.6"/><circle cx="249.3" cy="112.7" r="1.6"/><circle cx="249.5" cy="112.2" r="1.6"/><circle cx="250.0" cy="98.2" r="1.6"/><circle cx="250.1" cy="105.9" r="1.6"/><circle cx="250.3" cy="89.1" r="1.6"/><circle cx="250.6" cy="108.9" r="1.6"/><circle cx="250.5" cy="88.2" r="1.6"/><circle cx="250.5" cy="102.3" r="1.6"/><circle cx="251.2" cy="103.6" r="1.6"/><circle cx="251.2" cy="89.8" r="1.6"/><circle cx="251.6" cy="99.1" r="1.6"/><circle cx="251.2" cy="116.8" r="1.6"/><circle cx="251.5" cy="106.3" r="1.6"/><circle cx="251.5" cy="116.5" r="1.6"/><circle cx="252.0" cy="97.6" r="1.6"/><circle cx="252.4" cy="95.8" r="1.6"/><circle cx="252.3" cy="106.5" r="1.6"/><circle cx="252.5" cy="105.7" r="1.6"/><circle cx="252.5" cy="100.3" r="1.6"/><circle cx="253.1" cy="94.6" r="1.6"/><circle cx="252.8" cy="111.1" r="1.6"/><circle cx="252.7" cy="97.9" r="1.6"/><circle cx="253.4" cy="109.0" r="1.6"/><circle cx="253.5" cy="90.5" r="1.6"/><circle cx="253.4" cy="95.2" r="1.6"/><circle cx="253.3" cy="113.1" r="1.6"/><circle cx="253.6" cy="103.2" r="1.6"/><circle cx="253.7" cy="98.4" r="1.6"/><circle cx="254.2" cy="87.5" r="1.6"/><circle cx="254.3" cy="100.2" r="1.6"/><circle cx="254.5" cy="104.7" r="1.6"/><circle cx="254.4" cy="114.5" r="1.6"/><circle cx="254.5" cy="86.2" r="1.6"/><circle cx="255.2" cy="116.8" r="1.6"/><circle cx="255.2" cy="98.5" r="1.6"/><circle cx="255.5" cy="112.3" r="1.6"/><circle cx="255.4" cy="95.0" r="1.6"/><circle cx="255.7" cy="116.1" r="1.6"/><circle cx="256.1" cy="116.0" r="1.6"/><circle cx="256.1" cy="86.1" r="1.6"/><circle cx="256.5" cy="97.7" r="1.6"/><circle cx="256.2" cy="104.8" r="1.6"/><circle cx="256.7" cy="91.3" r="1.6"/><circle cx="256.7" cy="86.2" r="1.6"/><circle cx="256.6" cy="80.2" r="1.6"/><circle cx="257.2" cy="113.5" r="1.6"/><circle cx="257.0" cy="80.4" r="1.6"/><circle cx="256.9" cy="110.4" r="1.6"/><circle cx="257.6" cy="93.8" r="1.6"/><circle cx="257.7" cy="96.3" r="1.6"/><circle cx="257.4" cy="89.9" r="1.6"/><circle cx="257.6" cy="84.4" r="1.6"/><circle cx="258.4" cy="116.6" r="1.6"/><circle cx="258.4" cy="78.8" r="1.6"/><circle cx="258.6" cy="116.2" r="1.6"/><circle cx="258.5" cy="82.9" r="1.6"/><circle cx="258.5" cy="114.3" r="1.6"/><circle cx="258.5" cy="88.3" r="1.6"/><circle cx="258.8" cy="100.0" r="1.6"/><circle cx="258.9" cy="94.0" r="1.6"/><circle cx="259.6" cy="102.0" r="1.6"/><circle cx="259.7" cy="96.3" r="1.6"/><circle cx="259.3" cy="94.8" r="1.6"/><circle cx="260.0" cy="111.4" r="1.6"/><circle cx="259.8" cy="98.1" r="1.6"/><circle cx="260.0" cy="95.2" r="1.6"/><circle cx="260.1" cy="97.0" r="1.6"/><circle cx="260.8" cy="98.0" r="1.6"/><circle cx="260.2" cy="107.9" r="1.6"/><circle cx="260.5" cy="113.7" r="1.6"/><circle cx="260.5" cy="111.3" r="1.6"/><circle cx="261.3" cy="106.0" r="1.6"/><circle cx="261.3" cy="107.3" r="1.6"/><circle cx="261.2" cy="93.4" r="1.6"/><circle cx="261.3" cy="108.1" r="1.6"/><circle cx="261.5" cy="107.4" r="1.6"/><circle cx="261.7" cy="110.0" r="1.6"/><circle cx="262.2" cy="107.8" r="1.6"/><circle cx="262.3" cy="91.8" r="1.6"/><circle cx="262.6" cy="96.9" r="1.6"/><circle cx="262.5" cy="96.5" r="1.6"/><circle cx="262.4" cy="117.6" r="1.6"/><circle cx="262.8" cy="115.0" r="1.6"/><circle cx="262.7" cy="110.5" r="1.6"/><circle cx="263.5" cy="103.8" r="1.6"/><circle cx="263.1" cy="97.9" r="1.6"/><circle cx="263.3" cy="120.6" r="1.6"/><circle cx="263.5" cy="114.6" r="1.6"/><circle cx="264.2" cy="106.6" r="1.6"/><circle cx="264.2" cy="115.0" r="1.6"/><circle cx="264.1" cy="115.9" r="1.6"/><circle cx="264.1" cy="97.9" r="1.6"/><circle cx="264.4" cy="108.6" r="1.6"/><circle cx="264.6" cy="98.2" r="1.6"/><circle cx="264.7" cy="108.8" r="1.6"/><circle cx="265.1" cy="116.5" r="1.6"/><circle cx="265.1" cy="109.8" r="1.6"/><circle cx="265.7" cy="111.1" r="1.6"/><circle cx="265.3" cy="115.6" r="1.6"/><circle cx="265.5" cy="114.6" r="1.6"/><circle cx="266.1" cy="110.2" r="1.6"/><circle cx="265.8" cy="90.9" r="1.6"/><circle cx="266.3" cy="115.3" r="1.6"/><circle cx="265.9" cy="102.4" r="1.6"/><circle cx="266.3" cy="105.5" r="1.6"/><circle cx="266.5" cy="98.8" r="1.6"/><circle cx="266.5" cy="108.7" r="1.6"/><circle cx="266.5" cy="95.9" r="1.6"/><circle cx="267.2" cy="114.9" r="1.6"/><circle cx="267.2" cy="115.9" r="1.6"/><circle cx="267.1" cy="107.9" r="1.6"/><circle cx="267.8" cy="118.2" r="1.6"/><circle cx="267.5" cy="114.4" r="1.6"/><circle cx="268.1" cy="116.7" r="1.6"/><circle cx="267.8" cy="108.3" r="1.6"/><circle cx="268.3" cy="108.8" r="1.6"/><circle cx="268.1" cy="104.9" r="1.6"/><circle cx="268.7" cy="100.8" r="1.6"/><circle cx="268.4" cy="102.8" r="1.6"/><circle cx="268.6" cy="96.6" r="1.6"/><circle cx="268.8" cy="110.0" r="1.6"/><circle cx="269.2" cy="111.5" r="1.6"/><circle cx="269.0" cy="106.3" r="1.6"/><circle cx="269.6" cy="92.6" r="1.6"/><circle cx="269.6" cy="115.9" r="1.6"/><circle cx="269.7" cy="90.7" r="1.6"/><circle cx="269.9" cy="94.1" r="1.6"/><circle cx="270.1" cy="109.3" r="1.6"/><circle cx="270.0" cy="91.2" r="1.6"/><circle cx="270.2" cy="105.1" r="1.6"/><circle cx="271.0" cy="111.5" r="1.6"/><circle cx="270.7" cy="118.6" r="1.6"/><circle cx="270.8" cy="120.3" r="1.6"/><circle cx="271.2" cy="106.7" r="1.6"/><circle cx="270.9" cy="117.2" r="1.6"/><circle cx="271.4" cy="116.4" r="1.6"/><circle cx="271.4" cy="122.7" r="1.6"/><circle cx="271.9" cy="115.2" r="1.6"/><circle cx="272.0" cy="116.3" r="1.6"/><circle cx="272.3" cy="105.2" r="1.6"/><circle cx="272.2" cy="123.3" r="1.6"/><circle cx="272.0" cy="114.3" r="1.6"/><circle cx="272.4" cy="112.4" r="1.6"/><circle cx="272.4" cy="117.3" r="1.6"/><circle cx="272.7" cy="115.7" r="1.6"/><circle cx="273.0" cy="121.7" r="1.6"/><circle cx="273.5" cy="114.3" r="1.6"/><circle cx="273.0" cy="111.3" r="1.6"/><circle cx="273.7" cy="120.4" r="1.6"/><circle cx="273.2" cy="112.3" r="1.6"/><circle cx="274.0" cy="106.7" r="1.6"/><circle cx="274.1" cy="113.6" r="1.6"/><circle cx="274.0" cy="117.2" r="1.6"/><circle cx="274.5" cy="121.7" r="1.6"/><circle cx="274.4" cy="115.2" r="1.6"/><circle cx="274.9" cy="114.7" r="1.6"/><circle cx="275.1" cy="106.0" r="1.6"/><circle cx="275.0" cy="106.1" r="1.6"/><circle cx="275.0" cy="115.3" r="1.6"/><circle cx="275.2" cy="110.5" r="1.6"/><circle cx="275.7" cy="114.3" r="1.6"/><circle cx="275.6" cy="113.1" r="1.6"/><circle cx="275.7" cy="121.6" r="1.6"/><circle cx="275.6" cy="119.8" r="1.6"/><circle cx="276.3" cy="117.0" r="1.6"/><circle cx="276.3" cy="122.6" r="1.6"/><circle cx="276.7" cy="104.7" r="1.6"/><circle cx="276.7" cy="108.6" r="1.6"/><circle cx="276.4" cy="122.6" r="1.6"/><circle cx="276.9" cy="106.5" r="1.6"/><circle cx="277.3" cy="104.5" r="1.6"/><circle cx="277.2" cy="107.2" r="1.6"/><circle cx="277.2" cy="110.0" r="1.6"/><circle cx="277.2" cy="106.8" r="1.6"/><circle cx="277.8" cy="121.3" r="1.6"/><circle cx="278.0" cy="102.7" r="1.6"/><circle cx="278.2" cy="106.2" r="1.6"/><circle cx="277.7" cy="119.5" r="1.6"/><circle cx="278.7" cy="103.8" r="1.6"/><circle cx="278.4" cy="115.7" r="1.6"/><circle cx="278.9" cy="102.2" r="1.6"/><circle cx="279.1" cy="102.1" r="1.6"/><circle cx="279.2" cy="122.5" r="1.6"/><circle cx="279.3" cy="113.2" r="1.6"/><circle cx="278.8" cy="111.6" r="1.6"/><circle cx="279.1" cy="122.6" r="1.6"/><circle cx="279.9" cy="100.3" r="1.6"/><circle cx="279.9" cy="122.7" r="1.6"/><circle cx="279.9" cy="101.0" r="1.6"/><circle cx="280.3" cy="112.2" r="1.6"/><circle cx="280.2" cy="107.3" r="1.6"/><circle cx="280.3" cy="105.4" r="1.6"/><circle cx="280.2" cy="109.2" r="1.6"/><circle cx="281.1" cy="107.8" r="1.6"/><circle cx="281.1" cy="114.2" r="1.6"/><circle cx="281.0" cy="115.0" r="1.6"/><circle cx="281.0" cy="108.8" r="1.6"/><circle cx="281.2" cy="102.6" r="1.6"/><circle cx="281.7" cy="110.2" r="1.6"/><circle cx="281.6" cy="105.6" r="1.6"/><circle cx="281.5" cy="122.2" r="1.6"/><circle cx="282.2" cy="121.1" r="1.6"/><circle cx="282.5" cy="121.4" r="1.6"/><circle cx="282.3" cy="116.4" r="1.6"/><circle cx="282.6" cy="126.1" r="1.6"/><circle cx="282.8" cy="120.4" r="1.6"/><circle cx="283.0" cy="113.0" r="1.6"/><circle cx="283.1" cy="111.3" r="1.6"/><circle cx="282.8" cy="119.5" r="1.6"/><circle cx="283.1" cy="111.1" r="1.6"/><circle cx="283.5" cy="123.9" r="1.6"/><circle cx="283.8" cy="119.0" r="1.6"/><circle cx="283.4" cy="121.1" r="1.6"/><circle cx="284.1" cy="105.5" r="1.6"/><circle cx="283.8" cy="117.8" r="1.6"/><circle cx="284.2" cy="114.2" r="1.6"/><circle cx="284.4" cy="112.3" r="1.6"/><circle cx="284.7" cy="123.6" r="1.6"/><circle cx="284.6" cy="123.4" r="1.6"/><circle cx="284.5" cy="120.9" r="1.6"/><circle cx="284.6" cy="119.3" r="1.6"/><circle cx="285.6" cy="124.4" r="1.6"/><circle cx="285.7" cy="110.0" r="1.6"/><circle cx="285.4" cy="108.4" r="1.6"/><circle cx="285.8" cy="122.7" r="1.6"/><circle cx="285.7" cy="110.8" r="1.6"/><circle cx="285.9" cy="119.2" r="1.6"/><circle cx="285.9" cy="117.0" r="1.6"/><circle cx="286.7" cy="104.1" r="1.6"/><circle cx="286.2" cy="123.1" r="1.6"/><circle cx="286.2" cy="125.3" r="1.6"/><circle cx="286.8" cy="123.3" r="1.6"/><circle cx="287.3" cy="121.1" r="1.6"/><circle cx="286.8" cy="125.9" r="1.6"/><circle cx="287.4" cy="114.7" r="1.6"/><circle cx="287.4" cy="117.4" r="1.6"/><circle cx="288.0" cy="102.3" r="1.6"/><circle cx="287.9" cy="113.5" r="1.6"/><circle cx="287.6" cy="119.6" r="1.6"/><circle cx="287.9" cy="116.4" r="1.6"/><circle cx="288.5" cy="110.5" r="1.6"/><circle cx="288.5" cy="124.1" r="1.6"/><circle cx="288.9" cy="98.4" r="1.6"/><circle cx="288.7" cy="122.1" r="1.6"/><circle cx="288.7" cy="116.3" r="1.6"/><circle cx="288.8" cy="105.8" r="1.6"/><circle cx="289.5" cy="115.6" r="1.6"/><circle cx="289.7" cy="103.4" r="1.6"/><circle cx="289.6" cy="117.8" r="1.6"/><circle cx="290.0" cy="111.4" r="1.6"/><circle cx="289.5" cy="113.3" r="1.6"/><circle cx="290.3" cy="121.2" r="1.6"/><circle cx="289.9" cy="124.9" r="1.6"/><circle cx="290.6" cy="120.3" r="1.6"/><circle cx="290.2" cy="109.0" r="1.6"/><circle cx="290.5" cy="111.9" r="1.6"/><circle cx="290.9" cy="128.8" r="1.6"/><circle cx="290.6" cy="117.9" r="1.6"/><circle cx="291.1" cy="126.1" r="1.6"/><circle cx="291.1" cy="108.1" r="1.6"/><circle cx="291.4" cy="124.9" r="1.6"/><circle cx="291.9" cy="118.9" r="1.6"/><circle cx="291.9" cy="119.3" r="1.6"/><circle cx="291.6" cy="128.1" r="1.6"/><circle cx="292.2" cy="115.8" r="1.6"/><circle cx="292.0" cy="115.9" r="1.6"/><circle cx="292.3" cy="105.6" r="1.6"/><circle cx="292.9" cy="118.0" r="1.6"/><circle cx="292.6" cy="116.4" r="1.6"/><circle cx="292.7" cy="127.8" r="1.6"/><circle cx="293.0" cy="120.0" r="1.6"/><circle cx="293.3" cy="118.0" r="1.6"/><circle cx="293.7" cy="114.0" r="1.6"/><circle cx="293.4" cy="121.4" r="1.6"/><circle cx="293.6" cy="116.3" r="1.6"/><circle cx="294.3" cy="127.2" r="1.6"/><circle cx="294.3" cy="121.0" r="1.6"/><circle cx="294.4" cy="120.9" r="1.6"/><circle cx="294.5" cy="113.9" r="1.6"/><circle cx="294.2" cy="110.9" r="1.6"/><circle cx="294.5" cy="112.4" r="1.6"/><circle cx="295.0" cy="124.6" r="1.6"/><circle cx="294.9" cy="121.5" r="1.6"/><circle cx="295.4" cy="119.0" r="1.6"/><circle cx="295.7" cy="119.2" r="1.6"/><circle cx="295.8" cy="123.4" r="1.6"/><circle cx="295.3" cy="112.6" r="1.6"/><circle cx="295.4" cy="114.4" r="1.6"/><circle cx="295.7" cy="120.7" r="1.6"/><circle cx="296.3" cy="124.2" r="1.6"/><circle cx="296.6" cy="112.1" r="1.6"/><circle cx="296.6" cy="112.5" r="1.6"/><circle cx="296.7" cy="130.2" r="1.6"/><circle cx="296.4" cy="117.1" r="1.6"/><circle cx="296.8" cy="107.9" r="1.6"/><circle cx="296.9" cy="118.6" r="1.6"/><circle cx="296.9" cy="123.1" r="1.6"/><circle cx="297.7" cy="129.6" r="1.6"/><circle cx="297.4" cy="123.6" r="1.6"/><circle cx="297.6" cy="106.9" r="1.6"/><circle cx="297.6" cy="115.5" r="1.6"/><circle cx="298.2" cy="112.3" r="1.6"/><circle cx="297.9" cy="120.6" r="1.6"/><circle cx="298.4" cy="118.7" r="1.6"/><circle cx="298.7" cy="126.8" r="1.6"/><circle cx="298.3" cy="117.3" r="1.6"/><circle cx="299.2" cy="115.5" r="1.6"/><circle cx="298.6" cy="125.0" r="1.6"/><circle cx="298.8" cy="122.8" r="1.6"/><circle cx="299.4" cy="102.9" r="1.6"/><circle cx="299.9" cy="102.3" r="1.6"/><circle cx="299.7" cy="108.9" r="1.6"/><circle cx="299.9" cy="103.1" r="1.6"/><circle cx="300.2" cy="105.8" r="1.6"/><circle cx="300.5" cy="102.1" r="1.6"/><circle cx="299.9" cy="107.6" r="1.6"/><circle cx="300.5" cy="130.8" r="1.6"/><circle cx="300.8" cy="107.0" r="1.6"/><circle cx="300.6" cy="126.5" r="1.6"/><circle cx="301.2" cy="125.2" r="1.6"/><circle cx="301.1" cy="127.5" r="1.6"/><circle cx="301.5" cy="120.7" r="1.6"/><circle cx="301.1" cy="124.3" r="1.6"/><circle cx="301.9" cy="129.7" r="1.6"/><circle cx="302.1" cy="130.5" r="1.6"/><circle cx="302.0" cy="119.4" r="1.6"/><circle cx="302.1" cy="125.9" r="1.6"/><circle cx="302.0" cy="124.3" r="1.6"/><circle cx="302.8" cy="123.3" r="1.6"/><circle cx="302.4" cy="130.6" r="1.6"/><circle cx="302.3" cy="116.5" r="1.6"/><circle cx="303.1" cy="111.7" r="1.6"/><circle cx="303.3" cy="114.9" r="1.6"/><circle cx="302.9" cy="117.0" r="1.6"/><circle cx="303.0" cy="114.8" r="1.6"/><circle cx="303.5" cy="121.3" r="1.6"/><circle cx="303.5" cy="121.7" r="1.6"/><circle cx="303.9" cy="118.8" r="1.6"/><circle cx="304.1" cy="132.1" r="1.6"/><circle cx="304.2" cy="111.9" r="1.6"/><circle cx="304.3" cy="132.6" r="1.6"/><circle cx="304.6" cy="116.5" r="1.6"/><circle cx="304.4" cy="131.8" r="1.6"/><circle cx="304.6" cy="123.8" r="1.6"/><circle cx="304.8" cy="113.3" r="1.6"/><circle cx="305.2" cy="119.2" r="1.6"/><circle cx="305.6" cy="119.9" r="1.6"/><circle cx="305.6" cy="112.9" r="1.6"/><circle cx="305.6" cy="115.7" r="1.6"/><circle cx="305.5" cy="116.4" r="1.6"/><circle cx="305.6" cy="130.9" r="1.6"/><circle cx="306.2" cy="124.0" r="1.6"/><circle cx="306.6" cy="127.4" r="1.6"/><circle cx="306.0" cy="130.3" r="1.6"/><circle cx="306.6" cy="124.6" r="1.6"/><circle cx="306.9" cy="119.5" r="1.6"/><circle cx="306.7" cy="128.3" r="1.6"/><circle cx="306.7" cy="111.7" r="1.6"/><circle cx="307.3" cy="131.4" r="1.6"/><circle cx="307.5" cy="126.0" r="1.6"/><circle cx="307.7" cy="125.8" r="1.6"/><circle cx="308.0" cy="132.3" r="1.6"/><circle cx="307.6" cy="110.3" r="1.6"/><circle cx="308.0" cy="111.4" r="1.6"/><circle cx="308.5" cy="124.9" r="1.6"/><circle cx="308.1" cy="120.2" r="1.6"/><circle cx="308.3" cy="108.8" r="1.6"/><circle cx="308.8" cy="110.1" r="1.6"/><circle cx="308.6" cy="112.4" r="1.6"/><circle cx="309.1" cy="119.0" r="1.6"/><circle cx="309.3" cy="128.7" r="1.6"/><circle cx="309.2" cy="111.2" r="1.6"/><circle cx="309.7" cy="114.6" r="1.6"/><circle cx="309.3" cy="108.8" r="1.6"/><circle cx="309.9" cy="124.7" r="1.6"/><circle cx="309.9" cy="109.7" r="1.6"/><circle cx="310.3" cy="115.8" r="1.6"/><circle cx="310.6" cy="126.6" r="1.6"/><circle cx="310.5" cy="129.5" r="1.6"/><circle cx="310.8" cy="118.8" r="1.6"/><circle cx="310.9" cy="122.7" r="1.6"/><circle cx="310.5" cy="125.2" r="1.6"/><circle cx="310.7" cy="130.6" r="1.6"/><circle cx="311.5" cy="128.8" r="1.6"/><circle cx="311.2" cy="121.8" r="1.6"/><circle cx="311.2" cy="124.2" r="1.6"/><circle cx="311.6" cy="132.0" r="1.6"/><circle cx="311.5" cy="133.3" r="1.6"/><circle cx="311.7" cy="123.2" r="1.6"/><circle cx="312.0" cy="114.1" r="1.6"/><circle cx="312.6" cy="127.9" r="1.6"/><circle cx="312.5" cy="112.8" r="1.6"/><circle cx="313.0" cy="107.4" r="1.6"/><circle cx="312.4" cy="121.4" r="1.6"/><circle cx="313.1" cy="134.0" r="1.6"/><circle cx="313.0" cy="128.4" r="1.6"/><circle cx="313.4" cy="133.1" r="1.6"/><circle cx="313.8" cy="132.0" r="1.6"/><circle cx="313.9" cy="123.8" r="1.6"/><circle cx="314.1" cy="119.9" r="1.6"/><circle cx="313.9" cy="112.3" r="1.6"/><circle cx="314.2" cy="133.3" r="1.6"/><circle cx="314.4" cy="126.8" r="1.6"/><circle cx="314.6" cy="129.6" r="1.6"/><circle cx="314.7" cy="126.8" r="1.6"/><circle cx="314.8" cy="115.6" r="1.6"/><circle cx="314.5" cy="117.2" r="1.6"/><circle cx="315.2" cy="115.2" r="1.6"/><circle cx="315.3" cy="123.2" r="1.6"/><circle cx="315.0" cy="124.9" r="1.6"/><circle cx="315.9" cy="132.4" r="1.6"/><circle cx="316.0" cy="131.6" r="1.6"/><circle cx="316.0" cy="132.7" r="1.6"/><circle cx="315.8" cy="133.3" r="1.6"/><circle cx="316.3" cy="121.6" r="1.6"/><circle cx="316.0" cy="112.2" r="1.6"/><circle cx="316.3" cy="122.3" r="1.6"/><circle cx="316.8" cy="129.1" r="1.6"/><circle cx="316.9" cy="111.4" r="1.6"/><circle cx="317.0" cy="128.6" r="1.6"/><circle cx="317.4" cy="113.6" r="1.6"/><circle cx="317.3" cy="117.9" r="1.6"/><circle cx="317.5" cy="111.0" r="1.6"/><circle cx="318.0" cy="129.0" r="1.6"/><circle cx="318.1" cy="130.6" r="1.6"/><circle cx="318.2" cy="120.6" r="1.6"/><circle cx="317.9" cy="130.7" r="1.6"/><circle cx="317.9" cy="113.8" r="1.6"/><circle cx="318.5" cy="107.8" r="1.6"/><circle cx="318.7" cy="118.3" r="1.6"/><circle cx="319.0" cy="116.0" r="1.6"/><circle cx="318.6" cy="102.2" r="1.6"/><circle cx="319.1" cy="128.0" r="1.6"/><circle cx="319.3" cy="133.8" r="1.6"/><circle cx="319.3" cy="134.4" r="1.6"/><circle cx="319.5" cy="130.0" r="1.6"/><circle cx="319.9" cy="105.8" r="1.6"/><circle cx="319.5" cy="127.3" r="1.6"/><circle cx="320.0" cy="113.7" r="1.6"/><circle cx="319.9" cy="125.0" r="1.6"/><circle cx="320.5" cy="107.4" r="1.6"/><circle cx="320.8" cy="113.4" r="1.6"/><circle cx="321.0" cy="112.1" r="1.6"/><circle cx="321.2" cy="128.3" r="1.6"/><circle cx="321.4" cy="120.4" r="1.6"/><circle cx="320.8" cy="108.1" r="1.6"/><circle cx="321.3" cy="113.2" r="1.6"/><circle cx="321.6" cy="112.8" r="1.6"/><circle cx="321.5" cy="126.6" r="1.6"/><circle cx="321.9" cy="127.3" r="1.6"/><circle cx="321.8" cy="110.6" r="1.6"/><circle cx="321.8" cy="126.2" r="1.6"/><circle cx="322.1" cy="112.7" r="1.6"/><circle cx="322.7" cy="125.6" r="1.6"/><circle cx="322.6" cy="121.7" r="1.6"/><circle cx="322.9" cy="130.9" r="1.6"/><circle cx="322.8" cy="114.2" r="1.6"/><circle cx="323.1" cy="130.4" r="1.6"/><circle cx="322.9" cy="126.5" r="1.6"/><circle cx="323.7" cy="128.1" r="1.6"/><circle cx="323.3" cy="127.0" r="1.6"/><circle cx="323.5" cy="131.4" r="1.6"/><circle cx="324.3" cy="122.4" r="1.6"/><circle cx="323.8" cy="133.9" r="1.6"/><circle cx="324.2" cy="118.2" r="1.6"/><circle cx="324.7" cy="119.5" r="1.6"/><circle cx="324.6" cy="123.3" r="1.6"/><circle cx="324.4" cy="116.0" r="1.6"/><circle cx="324.7" cy="116.7" r="1.6"/><circle cx="325.4" cy="119.6" r="1.6"/><circle cx="325.3" cy="118.3" r="1.6"/><circle cx="325.5" cy="131.2" r="1.6"/><circle cx="325.7" cy="132.0" r="1.6"/><circle cx="325.5" cy="115.1" r="1.6"/><circle cx="326.1" cy="130.7" r="1.6"/><circle cx="326.2" cy="124.6" r="1.6"/><circle cx="326.4" cy="115.5" r="1.6"/><circle cx="326.1" cy="130.1" r="1.6"/><circle cx="326.7" cy="130.0" r="1.6"/><circle cx="327.0" cy="128.1" r="1.6"/><circle cx="326.6" cy="117.1" r="1.6"/><circle cx="326.8" cy="121.4" r="1.6"/><circle cx="327.4" cy="117.3" r="1.6"/><circle cx="327.6" cy="118.1" r="1.6"/><circle cx="327.2" cy="132.3" r="1.6"/><circle cx="327.8" cy="132.4" r="1.6"/><circle cx="327.9" cy="118.2" r="1.6"/><circle cx="328.1" cy="115.8" r="1.6"/><circle cx="328.4" cy="116.8" r="1.6"/><circle cx="328.0" cy="116.7" r="1.6"/><circle cx="328.3" cy="117.1" r="1.6"/><circle cx="328.4" cy="130.7" r="1.6"/><circle cx="328.3" cy="127.7" r="1.6"/><circle cx="328.7" cy="112.1" r="1.6"/><circle cx="329.0" cy="106.1" r="1.6"/><circle cx="329.2" cy="115.2" r="1.6"/><circle cx="329.4" cy="129.0" r="1.6"/><circle cx="329.6" cy="111.9" r="1.6"/><circle cx="329.5" cy="128.0" r="1.6"/><circle cx="329.8" cy="109.8" r="1.6"/><circle cx="330.1" cy="116.3" r="1.6"/><circle cx="329.9" cy="109.3" r="1.6"/><circle cx="330.1" cy="112.4" r="1.6"/><circle cx="330.5" cy="129.0" r="1.6"/><circle cx="330.3" cy="123.6" r="1.6"/><circle cx="330.9" cy="133.8" r="1.6"/><circle cx="330.9" cy="111.9" r="1.6"/><circle cx="331.2" cy="128.8" r="1.6"/><circle cx="331.2" cy="122.8" r="1.6"/><circle cx="331.8" cy="118.5" r="1.6"/><circle cx="331.5" cy="131.6" r="1.6"/><circle cx="331.5" cy="114.0" r="1.6"/><circle cx="331.7" cy="125.9" r="1.6"/><circle cx="332.0" cy="116.9" r="1.6"/><circle cx="332.6" cy="114.1" r="1.6"/><circle cx="332.5" cy="111.3" r="1.6"/><circle cx="332.2" cy="105.7" r="1.6"/><circle cx="332.5" cy="130.5" r="1.6"/><circle cx="333.0" cy="121.5" r="1.6"/><circle cx="333.4" cy="130.6" r="1.6"/><circle cx="333.1" cy="126.7" r="1.6"/><circle cx="333.3" cy="127.0" r="1.6"/><circle cx="333.2" cy="119.1" r="1.6"/><circle cx="334.0" cy="121.0" r="1.6"/><circle cx="333.8" cy="128.4" r="1.6"/><circle cx="333.7" cy="131.5" r="1.6"/><circle cx="334.0" cy="122.1" r="1.6"/><circle cx="334.2" cy="123.9" r="1.6"/><circle cx="334.7" cy="126.8" r="1.6"/><circle cx="334.4" cy="128.8" r="1.6"/><circle cx="334.8" cy="111.4" r="1.6"/><circle cx="334.9" cy="112.7" r="1.6"/><circle cx="335.0" cy="124.2" r="1.6"/><circle cx="335.5" cy="119.4" r="1.6"/><circle cx="335.2" cy="128.2" r="1.6"/><circle cx="335.7" cy="125.9" r="1.6"/><circle cx="335.6" cy="132.0" r="1.6"/><circle cx="335.7" cy="128.5" r="1.6"/><circle cx="335.8" cy="130.9" r="1.6"/><circle cx="336.1" cy="123.5" r="1.6"/><circle cx="336.1" cy="128.5" r="1.6"/><circle cx="336.5" cy="133.0" r="1.6"/><circle cx="337.0" cy="113.4" r="1.6"/><circle cx="336.6" cy="125.1" r="1.6"/><circle cx="337.5" cy="126.4" r="1.6"/><circle cx="337.5" cy="123.9" r="1.6"/><circle cx="337.3" cy="128.5" r="1.6"/><circle cx="337.6" cy="121.1" r="1.6"/><circle cx="337.8" cy="125.3" r="1.6"/><circle cx="338.1" cy="112.9" r="1.6"/><circle cx="337.8" cy="115.7" r="1.6"/><circle cx="338.3" cy="122.8" r="1.6"/><circle cx="338.6" cy="133.3" r="1.6"/><circle cx="338.8" cy="129.3" r="1.6"/><circle cx="339.0" cy="108.5" r="1.6"/><circle cx="339.0" cy="114.8" r="1.6"/><circle cx="338.8" cy="128.5" r="1.6"/><circle cx="339.2" cy="134.6" r="1.6"/><circle cx="339.2" cy="132.7" r="1.6"/><circle cx="339.9" cy="118.8" r="1.6"/><circle cx="339.8" cy="123.3" r="1.6"/><circle cx="339.9" cy="112.9" r="1.6"/><circle cx="340.0" cy="120.8" r="1.6"/><circle cx="339.8" cy="113.0" r="1.6"/><circle cx="340.3" cy="112.1" r="1.6"/><circle cx="340.2" cy="115.6" r="1.6"/><circle cx="340.3" cy="126.3" r="1.6"/><circle cx="341.1" cy="101.1" r="1.6"/><circle cx="341.2" cy="127.8" r="1.6"/><circle cx="340.8" cy="130.8" r="1.6"/><circle cx="341.3" cy="112.7" r="1.6"/><circle cx="341.7" cy="109.1" r="1.6"/><circle cx="341.8" cy="104.9" r="1.6"/><circle cx="341.5" cy="126.0" r="1.6"/><circle cx="341.8" cy="132.0" r="1.6"/><circle cx="341.7" cy="104.6" r="1.6"/><circle cx="342.1" cy="122.6" r="1.6"/><circle cx="342.6" cy="133.2" r="1.6"/><circle cx="342.4" cy="134.7" r="1.6"/><circle cx="342.6" cy="107.3" r="1.6"/><circle cx="343.1" cy="131.2" r="1.6"/><circle cx="343.2" cy="108.2" r="1.6"/><circle cx="343.1" cy="117.8" r="1.6"/><circle cx="343.3" cy="113.7" r="1.6"/><circle cx="343.9" cy="118.7" r="1.6"/><circle cx="343.9" cy="125.9" r="1.6"/><circle cx="343.7" cy="121.9" r="1.6"/><circle cx="344.1" cy="115.8" r="1.6"/><circle cx="256.6" cy="78.3" r="1.6"/><circle cx="258.4" cy="83.8" r="1.6"/><circle cx="269.4" cy="88.3" r="1.6"/><circle cx="233.0" cy="79.7" r="1.6"/><circle cx="230.0" cy="85.6" r="1.6"/><circle cx="230.0" cy="90.6" r="1.6"/><circle cx="230.0" cy="102.5" r="1.6"/><circle cx="227.5" cy="95.0" r="1.6"/><circle cx="283.8" cy="130.7" r="1.6"/></g>
<path d="M226.1,23 V138.3" fill="none" stroke="#4a4a4a" stroke-width="1.5"/>
<path d="M225.3,138.3 H351.2" fill="none" stroke="#202020" stroke-width="1.25"/>
<text x="217.5" y="141.6" text-anchor="end" font-size="10.2">25</text>
<text x="217.5" y="112.8" text-anchor="end" font-size="10.2">35</text>
<text x="217.5" y="84.0" text-anchor="end" font-size="10.2">45</text>
<text x="217.5" y="55.3" text-anchor="end" font-size="10.2">55</text>
<text x="217.5" y="26.5" text-anchor="end" font-size="10.2">65</text>
<text x="226.0" y="153.1" text-anchor="middle" font-size="10.2">0</text>
<text x="248.8" y="153.1" text-anchor="middle" font-size="10.2">200</text>
<text x="271.5" y="153.1" text-anchor="middle" font-size="10.2">400</text>
<text x="294.3" y="153.1" text-anchor="middle" font-size="10.2">600</text>
<text x="317.1" y="153.1" text-anchor="middle" font-size="10.2">800</text>
<text x="339.8" y="153.1" text-anchor="middle" font-size="10.2">1000</text>
<text x="288.6" y="168.1" text-anchor="middle" font-size="10">Variable selection step</text>
<text transform="translate(202.6,80.0) rotate(-90)" text-anchor="middle" font-size="10">rRMSE (%)</text>
<text x="188.5" y="12.6" font-size="11">(b)</text>
<text x="290.4" y="12.2" text-anchor="middle" font-size="11.3">FORW-KNN</text>
<line x1="261.9" y1="33.4" x2="289.4" y2="33.4" stroke="#ff0000" stroke-width="1.5"/>
<circle cx="275.4" cy="33.4" r="2.2" fill="#ff0000"/>
<circle cx="275.9" cy="41.5" r="1.45" fill="none" stroke="#a0a0a0" stroke-width="0.6"/>
<text x="291.0" y="35.9" font-size="7">The selected variables</text>
<text x="291.0" y="44.0" font-size="7">The rejected variables</text>
<polyline points="415.0,60.0 419.0,98.9 428.0,99.7 432.0,100.9 484.0,101.6 509.6,107.3" fill="none" stroke="#ff0000" stroke-width="1.5" stroke-linejoin="round"/>
<g fill="#ff0000"><circle cx="415.0" cy="60.0" r="2.2"/><circle cx="419.0" cy="98.9" r="2.2"/><circle cx="428.0" cy="99.7" r="2.2"/><circle cx="432.0" cy="100.9" r="2.2"/><circle cx="484.0" cy="101.6" r="2.2"/><circle cx="509.6" cy="107.3" r="2.2"/></g>
<g fill="#fff" stroke="#a0a0a0" stroke-width="0.6"><circle cx="449.5" cy="42.4" r="1.45"/><circle cx="471.4" cy="57.5" r="1.45"/><circle cx="475.6" cy="65.4" r="1.45"/><circle cx="424.2" cy="68.4" r="1.45"/><circle cx="454.0" cy="79.0" r="1.45"/><circle cx="458.1" cy="91.4" r="1.45"/><circle cx="462.4" cy="97.3" r="1.45"/><circle cx="467.1" cy="95.9" r="1.45"/><circle cx="441.6" cy="96.1" r="1.45"/><circle cx="445.4" cy="100.0" r="1.45"/><circle cx="479.6" cy="93.3" r="1.45"/><circle cx="488.6" cy="94.3" r="1.45"/><circle cx="493.0" cy="88.4" r="1.45"/><circle cx="497.6" cy="81.7" r="1.45"/><circle cx="506.0" cy="81.7" r="1.45"/><circle cx="501.8" cy="74.4" r="1.45"/><circle cx="515.0" cy="77.4" r="1.45"/><circle cx="522.8" cy="72.1" r="1.45"/><circle cx="519.2" cy="87.5" r="1.45"/><circle cx="527.4" cy="90.3" r="1.45"/><circle cx="428.0" cy="99.7" r="1.45"/></g>
<path d="M411.1,27.7 V139.0" fill="none" stroke="#4a4a4a" stroke-width="1.5"/>
<path d="M410.3,139.0 H541" fill="none" stroke="#202020" stroke-width="1.25"/>
<text x="402.5" y="142.2" text-anchor="end" font-size="10.2">25</text>
<text x="402.5" y="86.7" text-anchor="end" font-size="10.2">35</text>
<text x="402.5" y="31.2" text-anchor="end" font-size="10.2">45</text>
<text x="411.0" y="153.7" text-anchor="middle" font-size="10.2">0</text>
<text x="454.3" y="153.7" text-anchor="middle" font-size="10.2">10</text>
<text x="497.7" y="153.7" text-anchor="middle" font-size="10.2">20</text>
<text x="541.0" y="153.7" text-anchor="middle" font-size="10.2">30</text>
<text x="476.0" y="168.7" text-anchor="middle" font-size="10">Variable selection step</text>
<text transform="translate(387.2,82.3) rotate(-90)" text-anchor="middle" font-size="10">rRMSE (%)</text>
<text x="373.5" y="12.6" font-size="11">(c)</text>
<text x="465.8" y="12.2" text-anchor="middle" font-size="11.2">RF-KNN</text>
<line x1="452.6" y1="33.5" x2="480.1" y2="33.5" stroke="#ff0000" stroke-width="1.5"/>
<circle cx="466.1" cy="33.5" r="2.2" fill="#ff0000"/>
<circle cx="466.6" cy="42.1" r="1.45" fill="none" stroke="#a0a0a0" stroke-width="0.6"/>
<text x="481.7" y="36.0" font-size="7">The selected variables</text>
<text x="481.7" y="44.6" font-size="7">The rejected variables</text>
<polyline points="42.1,244.0 44.4,264.0 53.2,276.5 79.8,278.7 114.3,297.1 120.3,297.6 151.7,298.6" fill="none" stroke="#ff0000" stroke-width="1.5" stroke-linejoin="round"/>
<g fill="#ff0000"><circle cx="42.1" cy="244.0" r="2.2"/><circle cx="44.4" cy="264.0" r="2.2"/><circle cx="53.2" cy="276.5" r="2.2"/><circle cx="79.8" cy="278.7" r="2.2"/><circle cx="114.3" cy="297.1" r="2.2"/><circle cx="120.3" cy="297.6" r="2.2"/><circle cx="151.7" cy="298.6" r="2.2"/></g>
<g fill="#fff" stroke="#a0a0a0" stroke-width="0.6"><circle cx="65.4" cy="235.2" r="1.45"/><circle cx="46.7" cy="242.1" r="1.45"/><circle cx="63.3" cy="245.6" r="1.45"/><circle cx="66.9" cy="245.6" r="1.45"/><circle cx="70.6" cy="250.3" r="1.45"/><circle cx="78.3" cy="251.0" r="1.45"/><circle cx="60.4" cy="254.9" r="1.45"/><circle cx="61.5" cy="255.6" r="1.45"/><circle cx="50.5" cy="257.4" r="1.45"/><circle cx="52.3" cy="258.9" r="1.45"/><circle cx="69.2" cy="259.5" r="1.45"/><circle cx="83.5" cy="258.4" r="1.45"/><circle cx="93.0" cy="259.3" r="1.45"/><circle cx="72.1" cy="262.2" r="1.45"/><circle cx="74.7" cy="263.0" r="1.45"/><circle cx="48.5" cy="264.4" r="1.45"/><circle cx="81.5" cy="264.0" r="1.45"/><circle cx="85.3" cy="265.0" r="1.45"/><circle cx="87.7" cy="261.3" r="1.45"/><circle cx="89.6" cy="269.2" r="1.45"/><circle cx="91.1" cy="268.2" r="1.45"/><circle cx="56.0" cy="271.2" r="1.45"/><circle cx="57.8" cy="270.5" r="1.45"/><circle cx="76.1" cy="274.9" r="1.45"/><circle cx="94.6" cy="250.9" r="1.45"/><circle cx="96.7" cy="262.9" r="1.45"/><circle cx="106.3" cy="258.3" r="1.45"/><circle cx="102.1" cy="267.5" r="1.45"/><circle cx="107.7" cy="264.7" r="1.45"/><circle cx="109.4" cy="266.5" r="1.45"/><circle cx="104.2" cy="272.0" r="1.45"/><circle cx="98.3" cy="273.2" r="1.45"/><circle cx="99.9" cy="275.1" r="1.45"/><circle cx="112.0" cy="276.4" r="1.45"/><circle cx="113.1" cy="276.6" r="1.45"/><circle cx="119.4" cy="272.3" r="1.45"/><circle cx="125.8" cy="260.9" r="1.45"/><circle cx="128.2" cy="264.3" r="1.45"/><circle cx="124.5" cy="278.2" r="1.45"/><circle cx="131.2" cy="282.0" r="1.45"/><circle cx="133.4" cy="279.3" r="1.45"/><circle cx="122.6" cy="288.7" r="1.45"/><circle cx="129.7" cy="288.5" r="1.45"/><circle cx="116.6" cy="290.6" r="1.45"/><circle cx="150.1" cy="251.8" r="1.45"/><circle cx="140.4" cy="254.3" r="1.45"/><circle cx="148.5" cy="258.3" r="1.45"/><circle cx="153.8" cy="262.0" r="1.45"/><circle cx="137.5" cy="270.9" r="1.45"/><circle cx="146.3" cy="271.3" r="1.45"/><circle cx="135.3" cy="280.1" r="1.45"/><circle cx="139.3" cy="277.7" r="1.45"/><circle cx="142.8" cy="280.1" r="1.45"/><circle cx="144.5" cy="279.4" r="1.45"/><circle cx="157.3" cy="282.2" r="1.45"/><circle cx="155.9" cy="291.8" r="1.45"/></g>
<path d="M41.1,202.7 V316.7" fill="none" stroke="#4a4a4a" stroke-width="1.5"/>
<path d="M40.3,316.7 H170.4" fill="none" stroke="#202020" stroke-width="1.25"/>
<text x="32.5" y="320.2" text-anchor="end" font-size="10.2">25</text>
<text x="32.5" y="263.2" text-anchor="end" font-size="10.2">35</text>
<text x="32.5" y="206.2" text-anchor="end" font-size="10.2">45</text>
<text x="41.0" y="331.7" text-anchor="middle" font-size="10.2">0</text>
<text x="78.0" y="331.7" text-anchor="middle" font-size="10.2">20</text>
<text x="114.9" y="331.7" text-anchor="middle" font-size="10.2">40</text>
<text x="151.9" y="331.7" text-anchor="middle" font-size="10.2">60</text>
<text x="105.7" y="346.7" text-anchor="middle" font-size="10">Variable selection step</text>
<text transform="translate(17.6,258.5) rotate(-90)" text-anchor="middle" font-size="10">rRMSE (%)</text>
<text x="3.5" y="190" font-size="11">(d)</text>
<text x="95.7" y="190" text-anchor="middle" font-size="11">DC-SVR</text>
<line x1="81.4" y1="213.3" x2="108.9" y2="213.3" stroke="#ff0000" stroke-width="1.5"/>
<circle cx="94.9" cy="213.3" r="2.2" fill="#ff0000"/>
<circle cx="95.4" cy="221.2" r="1.45" fill="none" stroke="#a0a0a0" stroke-width="0.6"/>
<text x="110.5" y="215.8" font-size="7">The selected variables</text>
<text x="110.5" y="223.7" font-size="7">The rejected variables</text>
<polyline points="227.7,242.3 230.4,269.6 235.4,276.2 238.5,283.8 243.7,287.0" fill="none" stroke="#ff0000" stroke-width="1.5" stroke-linejoin="round"/>
<g fill="#ff0000"><circle cx="227.7" cy="242.3" r="2.2"/><circle cx="230.4" cy="269.6" r="2.2"/><circle cx="235.4" cy="276.2" r="2.2"/><circle cx="238.5" cy="283.8" r="2.2"/><circle cx="243.7" cy="287.0" r="2.2"/></g>
<g fill="#fff" stroke="#a0a0a0" stroke-width="0.6"><circle cx="234.0" cy="265.1" r="1.45"/><circle cx="246.9" cy="258.3" r="1.45"/><circle cx="241.4" cy="274.5" r="1.45"/><circle cx="248.9" cy="271.1" r="1.45"/><circle cx="252.0" cy="270.7" r="1.45"/><circle cx="254.0" cy="278.3" r="1.45"/><circle cx="257.0" cy="268.1" r="1.45"/><circle cx="260.1" cy="266.6" r="1.45"/><circle cx="262.0" cy="271.8" r="1.45"/><circle cx="265.3" cy="266.1" r="1.45"/><circle cx="267.5" cy="260.2" r="1.45"/><circle cx="270.0" cy="267.1" r="1.45"/><circle cx="272.5" cy="253.5" r="1.45"/><circle cx="275.2" cy="280.6" r="1.45"/><circle cx="277.2" cy="279.6" r="1.45"/><circle cx="288.3" cy="247.6" r="1.45"/><circle cx="303.4" cy="247.3" r="1.45"/><circle cx="283.1" cy="252.4" r="1.45"/><circle cx="285.6" cy="256.6" r="1.45"/><circle cx="280.5" cy="260.6" r="1.45"/><circle cx="295.5" cy="257.2" r="1.45"/><circle cx="298.4" cy="261.4" r="1.45"/><circle cx="301.4" cy="260.9" r="1.45"/><circle cx="318.6" cy="260.4" r="1.45"/><circle cx="290.4" cy="267.4" r="1.45"/><circle cx="293.4" cy="271.9" r="1.45"/><circle cx="306.5" cy="269.4" r="1.45"/><circle cx="309.0" cy="269.9" r="1.45"/><circle cx="316.2" cy="267.6" r="1.45"/><circle cx="313.9" cy="272.3" r="1.45"/><circle cx="324.2" cy="269.7" r="1.45"/><circle cx="311.2" cy="277.3" r="1.45"/><circle cx="321.7" cy="276.4" r="1.45"/><circle cx="326.8" cy="266.1" r="1.45"/><circle cx="329.4" cy="267.3" r="1.45"/><circle cx="331.7" cy="266.5" r="1.45"/><circle cx="334.9" cy="258.3" r="1.45"/><circle cx="339.5" cy="257.7" r="1.45"/><circle cx="336.9" cy="270.2" r="1.45"/></g>
<path d="M226.1,202.3 V316.0" fill="none" stroke="#4a4a4a" stroke-width="1.5"/>
<path d="M225.3,316.0 H355.3" fill="none" stroke="#202020" stroke-width="1.25"/>
<text x="217.5" y="319.7" text-anchor="end" font-size="10.2">25</text>
<text x="217.5" y="262.8" text-anchor="end" font-size="10.2">35</text>
<text x="217.5" y="205.8" text-anchor="end" font-size="10.2">45</text>
<text x="226.0" y="331.2" text-anchor="middle" font-size="10.2">0</text>
<text x="251.9" y="331.2" text-anchor="middle" font-size="10.2">10</text>
<text x="277.7" y="331.2" text-anchor="middle" font-size="10.2">20</text>
<text x="303.6" y="331.2" text-anchor="middle" font-size="10.2">30</text>
<text x="329.4" y="331.2" text-anchor="middle" font-size="10.2">40</text>
<text x="355.3" y="331.2" text-anchor="middle" font-size="10.2">50</text>
<text x="290.6" y="346.2" text-anchor="middle" font-size="10">Variable selection step</text>
<text transform="translate(202.6,258.1) rotate(-90)" text-anchor="middle" font-size="10">rRMSE (%)</text>
<text x="188.5" y="190" font-size="11">(e)</text>
<text x="288.7" y="190" text-anchor="middle" font-size="11">MIC-SVR</text>
<line x1="264.1" y1="211.2" x2="291.6" y2="211.2" stroke="#ff0000" stroke-width="1.5"/>
<circle cx="277.6" cy="211.2" r="2.2" fill="#ff0000"/>
<circle cx="278.1" cy="220.3" r="1.45" fill="none" stroke="#a0a0a0" stroke-width="0.6"/>
<text x="293.2" y="213.7" font-size="7">The selected variables</text>
<text x="293.2" y="222.8" font-size="7">The rejected variables</text>
<polyline points="415.7,250.1 420.7,258.0 426.1,288.5 457.3,311.7 482.8,314.9" fill="none" stroke="#ff0000" stroke-width="1.5" stroke-linejoin="round"/>
<g fill="#ff0000"><circle cx="415.7" cy="250.1" r="2.2"/><circle cx="420.7" cy="258.0" r="2.2"/><circle cx="426.1" cy="288.5" r="2.2"/><circle cx="457.3" cy="311.7" r="2.2"/><circle cx="482.8" cy="314.9" r="2.2"/></g>
<g fill="#fff" stroke="#a0a0a0" stroke-width="0.6"><circle cx="437.4" cy="266.7" r="1.45"/><circle cx="447.4" cy="266.7" r="1.45"/><circle cx="432.3" cy="282.3" r="1.45"/><circle cx="442.1" cy="287.1" r="1.45"/><circle cx="452.5" cy="283.5" r="1.45"/><circle cx="462.2" cy="298.2" r="1.45"/><circle cx="467.9" cy="295.7" r="1.45"/><circle cx="478.7" cy="280.2" r="1.45"/><circle cx="473.5" cy="307.0" r="1.45"/><circle cx="488.9" cy="307.7" r="1.45"/><circle cx="494.0" cy="310.6" r="1.45"/><circle cx="499.3" cy="267.9" r="1.45"/><circle cx="504.0" cy="277.8" r="1.45"/><circle cx="515.0" cy="277.3" r="1.45"/><circle cx="520.1" cy="276.4" r="1.45"/><circle cx="509.3" cy="297.6" r="1.45"/></g>
<path d="M411.1,204 V316.5" fill="none" stroke="#4a4a4a" stroke-width="1.5"/>
<path d="M410.3,316.5 H540.7" fill="none" stroke="#202020" stroke-width="1.25"/>
<text x="402.5" y="320.0" text-anchor="end" font-size="10.2">25</text>
<text x="402.5" y="263.8" text-anchor="end" font-size="10.2">35</text>
<text x="402.5" y="207.5" text-anchor="end" font-size="10.2">45</text>
<text x="411.0" y="331.5" text-anchor="middle" font-size="10.2">0</text>
<text x="436.9" y="331.5" text-anchor="middle" font-size="10.2">5</text>
<text x="462.9" y="331.5" text-anchor="middle" font-size="10.2">10</text>
<text x="488.8" y="331.5" text-anchor="middle" font-size="10.2">15</text>
<text x="514.8" y="331.5" text-anchor="middle" font-size="10.2">20</text>
<text x="540.7" y="331.5" text-anchor="middle" font-size="10.2">25</text>
<text x="475.9" y="346.5" text-anchor="middle" font-size="10">Variable selection step</text>
<text transform="translate(387.2,260.0) rotate(-90)" text-anchor="middle" font-size="10">rRMSE (%)</text>
<text x="373.5" y="190" font-size="11">(f)</text>
<text x="473.3" y="190" text-anchor="middle" font-size="11">PCC-KNN</text>
<line x1="452.6" y1="211.6" x2="480.1" y2="211.6" stroke="#ff0000" stroke-width="1.5"/>
<circle cx="466.1" cy="211.6" r="2.2" fill="#ff0000"/>
<circle cx="466.6" cy="220.8" r="1.45" fill="none" stroke="#a0a0a0" stroke-width="0.6"/>
<text x="481.7" y="214.1" font-size="7">The selected variables</text>
<text x="481.7" y="223.3" font-size="7">The rejected variables</text>
</svg>
</body></html>
